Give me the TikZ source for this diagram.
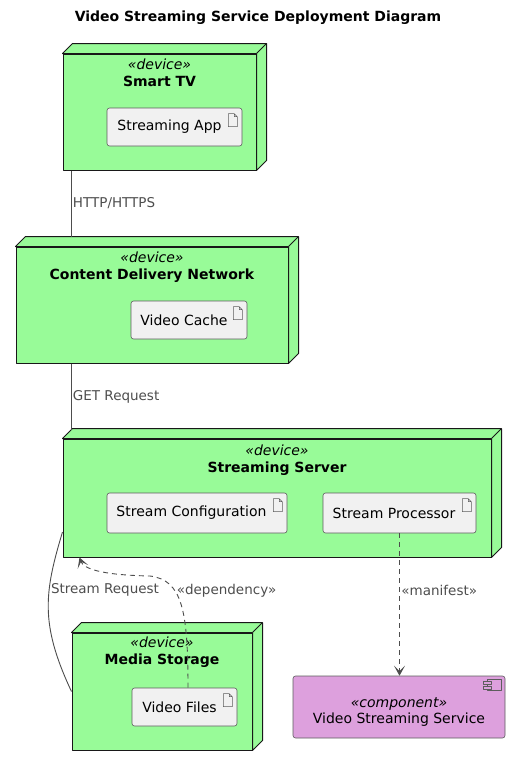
\documentclass[tikz,border=0pt]{standalone}
\usepackage{fontspec}
\setmainfont{DejaVu Sans}
\usetikzlibrary{arrows.meta,positioning,calc}
\definecolor{nodegreen}{HTML}{98FB98}
\definecolor{artgrey}{HTML}{F1F1F1}
\definecolor{compplum}{HTML}{DDA0DD}
\definecolor{edgeblack}{HTML}{181818}
\definecolor{linkgrey}{HTML}{4D4D4D}
\newcommand{\stereo}[1]{\textit{«#1»}}
\tikzset{
  device/.style={draw=edgeblack, line width=1pt, fill=nodegreen, inner sep=0pt,
                 line join=round},
  devtitle/.style={font=\fontsize{14}{17}\selectfont, align=center, inner sep=0pt},
  artifact/.style={draw=edgeblack!70, line width=0.6pt, fill=artgrey,
                   rounded corners=2.5pt, minimum height=38pt, inner sep=0pt,
                   font=\fontsize{14}{17}\selectfont},
  artmark/.style={draw=edgeblack!70, line width=0.5pt, line join=round},
  component/.style={draw=edgeblack!70, line width=0.6pt, fill=compplum,
                    rounded corners=2.5pt, inner sep=0pt},
  link/.style={draw=linkgrey, line width=0.9pt},
  deplink/.style={link, dash pattern=on 5pt off 4pt,
                  -{Stealth[length=10pt, width=11pt, inset=5.5pt]}},
  lbl/.style={font=\fontsize{13.5}{16}\selectfont, text=linkgrey, inner sep=1.5pt},
}
\begin{document}
\begin{tikzpicture}[x=1pt, y=-1pt]
\useasboundingbox (0,0) rectangle (516,766);
\node[font=\bfseries\fontsize{14}{17}\selectfont] (title) at (258,18)
  {Video Streaming Service Deployment Diagram};
% devices
\node[device, minimum width=193pt, minimum height=116pt] (tv) at (159.5,112) {};
\node[device, minimum width=272pt, minimum height=116pt] (cdn) at (152,305) {};
\node[device, minimum width=428pt, minimum height=118pt] (srv) at (277,498) {};
\node[device, minimum width=180pt, minimum height=117pt] (stor) at (162,691.5) {};
\foreach \n in {tv,cdn,srv,stor}{
  \filldraw[device] (\n.north west) -- ++(10,-10) -- ($(\n.north east)+(10,-10)$)
    -- ($(\n.south east)+(10,-10)$) -- (\n.south east) -- (\n.north east) -- cycle;
  \draw[device] (\n.north east) -- ++(10,-10);
}
\node[devtitle, below=5pt of tv.north] (tvname) {\stereo{device}\\\textbf{Smart TV}};
\node[devtitle, below=5pt of cdn.north] (cdnname) {\stereo{device}\\\textbf{Content Delivery Network}};
\node[devtitle, below=6pt of srv.north] (srvname) {\stereo{device}\\\textbf{Streaming Server}};
\node[devtitle, below=4pt of stor.north] (storname) {\stereo{device}\\\textbf{Media Storage}};
% artifacts
\node[artifact, minimum width=135pt] (app) at (174.5,127) {Streaming App\hspace*{10pt}};
\node[artifact, minimum width=116pt] (cache) at (189,320) {Video Cache\hspace*{10pt}};
\node[artifact, minimum width=180pt, minimum height=40pt] (conf) at (197,513) {Stream Configuration\hspace*{11pt}};
\node[artifact, minimum width=153pt, minimum height=40pt] (proc) at (399.5,513) {Stream Processor\hspace*{11pt}};
\node[artifact, minimum width=105pt] (files) at (184.5,707) {Video Files\hspace*{10pt}};
\foreach \a in {app,cache,conf,proc,files}{
  \draw[artmark] ($(\a.north east)+(-14,6)$) -- ++(6,0) -- ++(3,3) -- ++(0,10)
    -- ++(-9,0) -- cycle ++(6,0) -- ++(0,3) -- ++(3,0);
}
% component
\node[component, minimum width=212pt, minimum height=62pt] (svc) at (399,707) {};
\draw[artmark, fill=compplum] ($(svc.north east)+(-18,4)$) rectangle ++(14,11);
\draw[artmark, fill=compplum] ($(svc.north east)+(-22,6)$) rectangle ++(8,3);
\draw[artmark, fill=compplum] ($(svc.north east)+(-22,11)$) rectangle ++(8,3);
\node[font=\fontsize{14}{16}\selectfont, align=center] (svcname)
  at ($(svc.center)+(0,5)$) {\stereo{component}\\Video Streaming Service};
% connectors
\coordinate (tvout) at ([xshift=8.5pt]tv.south west);
\coordinate (cdnin) at ($(tvout |- cdn.north)+(0,-10)$);
\coordinate (cdnout) at (tvout |- cdn.south);
\coordinate (srvin) at ($(tvout |- srv.north)+(0,-8.5)$);
\draw[link] (tvout) -- (cdnin) node[lbl, midway, anchor=west] (httplbl) {HTTP/HTTPS};
\draw[link] (cdnout) -- (srvin) node[lbl, midway, anchor=west] (getlbl) {GET Request};
\coordinate (srvout) at ($(srv.west)+(0,34)$);
\draw[link] (srvout) .. controls +(-18,60) and +(-32,-68) .. (stor.west)
  node[lbl, pos=0.37, anchor=west] (reqlbl) {Stream Request};
\coordinate (filesout) at ([xshift=3.5pt]files.north);
\coordinate (depbend) at (150,576);
\coordinate (srvdep) at ([xshift=17pt]srv.south west);
\draw[deplink] (filesout) .. controls +(0,-78) and +(32,4) .. (depbend)
  node[lbl, pos=0.65, anchor=west] (deplbl) {«dependency»}
  .. controls +(-50,-1) and +(4,11) .. (srvdep);
\draw[deplink] (proc.south) -- (proc.south |- svc.north)
  node[lbl, pos=0.4, anchor=west] (manlbl) {«manifest»};
\end{tikzpicture}
\end{document}
